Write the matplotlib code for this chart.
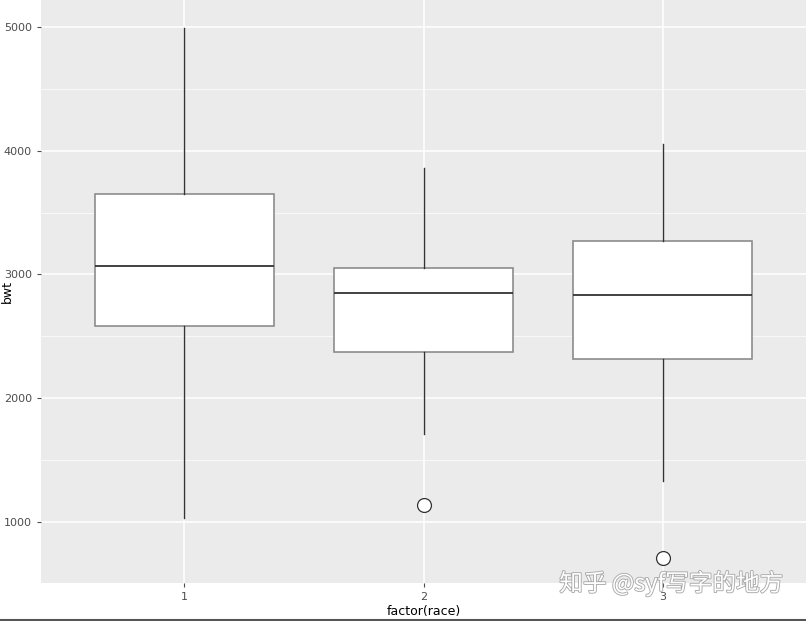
import matplotlib.pyplot as plt
import matplotlib.patheffects as pe
from matplotlib.lines import Line2D

# Значения
races = ['1', '2', '3']
whislo = [1032, 1711, 1331]
q1 = [2584, 2374, 2317]
med = [3069, 2851, 2834]
q3 = [3651, 3053, 3271]
whishi = [4990, 3861, 4055]
fliers = [[], [1137], [709]]

stats = []
for i in range(len(races)):
    stats.append({'label': races[i], 'whislo': whislo[i], 'q1': q1[i], 'med': med[i],
                  'q3': q3[i], 'whishi': whishi[i], 'fliers': fliers[i]})

fig = plt.figure(figsize=(8.06, 6.21), dpi=100)
ax = fig.add_axes([41 / 806, 38 / 621, 765 / 806, 583 / 621])
ax.set_facecolor('#EBEBEB')

ax.bxp(stats, positions=[1, 2, 3], widths=0.75, patch_artist=True, showcaps=False,
       boxprops=dict(facecolor='white', edgecolor='#8c8c8c', linewidth=1.2),
       medianprops=dict(color='#333333', linewidth=1.3),
       whiskerprops=dict(color='#333333', linewidth=1.0),
       flierprops=dict(marker='o', markersize=10, markerfacecolor='white',
                       markeredgecolor='#333333', markeredgewidth=0.9),
       zorder=3)

ax.set_xlim(0.4, 3.6)
ax.set_ylim(507, 5218)
ax.set_yticks([1000, 2000, 3000, 4000, 5000])
ax.set_yticks([1500, 2500, 3500, 4500], minor=True)
ax.set_xticks([1, 2, 3])
ax.set_xticklabels(races)

ax.grid(True, which='major', color='white', linewidth=1.1, zorder=0)
ax.grid(True, which='minor', axis='y', color='white', linewidth=0.5, zorder=0)
ax.set_axisbelow(True)
for s in ax.spines.values():
    s.set_visible(False)

ax.tick_params(axis='both', which='major', colors='#4D4D4D', labelsize=8, length=3, width=0.8)
ax.tick_params(axis='both', which='minor', length=0)
ax.set_xlabel('factor(race)', fontsize=9, labelpad=2)
ax.set_ylabel('bwt', fontsize=9)
ax.yaxis.set_label_coords(-0.036, 0.5)

# водяной знак
fig.text(0.694, 0.061, '知乎 @syf写字的地方', fontsize=17, color='white',
         family=['Noto Sans CJK SC', 'DejaVu Sans'], va='center', ha='left',
         path_effects=[pe.withStroke(linewidth=1.3, foreground='#aaaaaa')], zorder=10)

# тёмная линия по нижнему краю
fig.add_artist(Line2D([0, 1], [1.5 / 621, 1.5 / 621], color='#555555', linewidth=1.5))

plt.savefig('out.png', dpi=100)
